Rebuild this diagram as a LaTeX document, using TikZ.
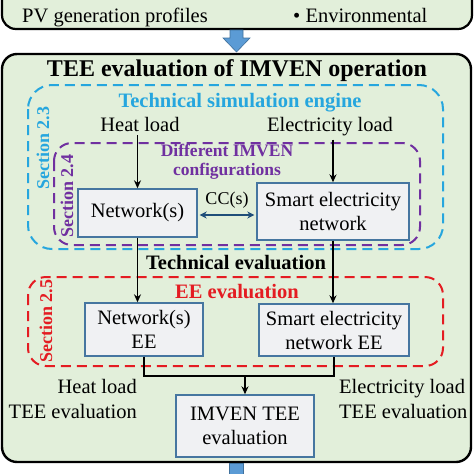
\documentclass[tikz,border=0pt]{standalone}
\usepackage{fontspec}
\setmainfont{Liberation Serif}
\usetikzlibrary{arrows.meta}
\definecolor{bggreen}{RGB}{226,239,218}
\definecolor{boxgray}{RGB}{240,241,243}
\definecolor{boxblue}{RGB}{70,118,160}
\definecolor{cyanblue}{RGB}{38,166,222}
\definecolor{purp}{RGB}{112,48,160}
\definecolor{redd}{RGB}{228,28,34}
\definecolor{arrblue}{RGB}{91,155,213}
\definecolor{arrblueedge}{RGB}{65,113,156}
\definecolor{darkblue}{RGB}{31,78,121}
\newcommand\mynorm{\fontsize{20.5}{24}\selectfont}
\newcommand\mybold{\fontsize{20.5}{24}\selectfont\bfseries}
\newcommand\mysmallbold{\fontsize{17.5}{19.5}\selectfont\bfseries}
\newcommand\mysecfont{\fontsize{18}{20}\selectfont\bfseries}
\begin{document}
\begin{tikzpicture}[x=1pt,y=-1pt,
  box/.style={draw=boxblue, line width=1.4pt, fill=boxgray, inner sep=0pt, align=center, font=\mynorm},
  plain/.style={inner sep=0pt, font=\mynorm},
  arr/.style={line width=1.3pt, -{Stealth[length=8pt,width=7pt]}},
  dashbox/.style={line width=2pt, dash pattern=on 10pt off 6pt, rounded corners=20pt},
  seclabel/.style={inner sep=0pt, rotate=90, font=\mysecfont},
  blockarrow/.style={fill=arrblue, draw=arrblueedge, line width=0.6pt}
]
\useasboundingbox (0,0) rectangle (474,474);
\clip (0,0) rectangle (474,474);

% top box
\draw[line width=2.2pt, fill=bggreen, rounded corners=14pt] (2,-30) rectangle (472,29);
\node[plain, anchor=base west] (pv) at (22,22) {PV generation profiles};
\node[plain, anchor=base west] (env) at (293,22) {• Environmental};

% top block arrow
\draw[blockarrow] (230,30) -- (243,30) -- (243,38) -- (250,38) -- (236.5,52) -- (223,38) -- (230,38) -- cycle;

% main box
\draw[line width=2.4pt, fill=bggreen, rounded corners=15pt] (2,54) rectangle (471,462);
\node[inner sep=0pt, anchor=base, font=\fontsize{24}{28}\selectfont\bfseries] (title) at (237,76) {TEE evaluation of IMVEN operation};

% technical simulation engine
\draw[dashbox, draw=cyanblue, rounded corners=24pt] (28,85) rectangle (443,249);
\node[inner sep=0pt, anchor=base, font=\mybold, text=cyanblue] (tse) at (240,107) {Technical simulation engine};
\node[seclabel, text=cyanblue] (s23) at (43,148) {Section 2.3};

\node[plain, anchor=base] (heat) at (140,131) {Heat load};
\node[plain, anchor=base] (elec) at (330,131) {Electricity load};

% IMVEN configurations
\draw[dashbox, draw=purp, rounded corners=18pt] (54,143) rectangle (420,245);
\node[inner sep=0pt, align=center, font=\mysmallbold, text=purp] (conf) at (227,162) {Different IMVEN\\configurations};
\node[seclabel, text=purp] (s24) at (67,196) {Section 2.4};

\node[box, minimum width=119pt, minimum height=48pt] (net) at (137.5,213) {Network(s)};
\node[box, minimum width=152pt, minimum height=57pt] (sen) at (333,211.5) {Smart electricity\\network};

\draw[arr] (net.north |- heat.south) ++(0,4) -- (net.north);
\draw[arr] (sen.north |- elec.south) ++(0,4) -- (sen.north);

\node[inner sep=0pt, font=\fontsize{18}{20}\selectfont] (cc) at (227,200) {CC(s)};
\draw[line width=1.8pt, draw=darkblue, {Stealth[length=7pt,width=7pt]}-{Stealth[length=7pt,width=7pt]}] (net.east |- 0,215) ++(2,0) -- ([xshift=-2pt]sen.west |- 0,215);

\node[inner sep=0pt, font=\mybold] (teval) at (236,263) {Technical evaluation};

% EE evaluation
\draw[dashbox, draw=redd, rounded corners=18pt] (28,277) rectangle (443,366);
\node[inner sep=0pt, font=\mybold, text=redd] (eeeval) at (237,292) {EE evaluation};
\node[seclabel, text=redd] (s25) at (46,321) {Section 2.5};

\node[box, minimum width=118pt, minimum height=53pt] (netee) at (144,329.5) {Network(s)\\EE};
\node[box, minimum width=150pt, minimum height=52pt] (senee) at (334,330) {Smart electricity\\network EE};

\draw[arr] (net.south) -- (net.south |- netee.north);
\draw[arr] (sen.south) -- (sen.south |- senee.north);

\node[box, minimum width=138pt, minimum height=62pt] (tee) at (245,426) {IMVEN TEE\\evaluation};
\coordinate (j) at (245,376);
\draw[line width=1.3pt] (netee.south) -- (netee.south |- j) -- (senee.south |- j) -- (senee.south);
\draw[arr] (j) -- (tee.north);

\node[plain, align=right, anchor=east, font=\fontsize{20.5}{25}\selectfont] (hl) at (137,399) {Heat load\\TEE evaluation};
\node[plain, align=left, anchor=west, font=\fontsize{20.5}{25}\selectfont] (el) at (339,399) {Electricity load\\TEE evaluation};

% bottom block arrow
\draw[blockarrow] (229,463.5) rectangle (243,480);
\end{tikzpicture}
\end{document}
